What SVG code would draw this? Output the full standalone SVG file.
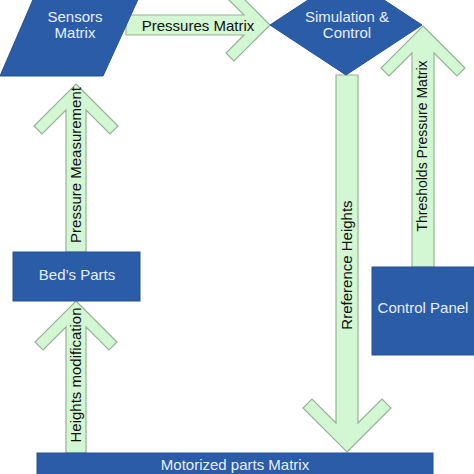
<svg xmlns="http://www.w3.org/2000/svg" width="474" height="474" viewBox="0 0 474 474">
<style>
.node{fill:#2b5ca8;stroke:#24528f;stroke-width:1}
.arrow{fill:#d3f7d3;stroke:#96b396;stroke-width:1.2;stroke-linejoin:miter}
.lt{font-family:"Liberation Sans",Arial,sans-serif;font-size:15px;fill:#e9eff8;text-anchor:middle}
.dk{font-family:"Liberation Sans",Arial,sans-serif;font-size:15px;fill:#111;text-anchor:middle}
.vc{dominant-baseline:central}
</style>
<rect width="474" height="474" fill="#fff"/>
<g id="connectors">
  <g id="pressures-matrix">
    <polygon class="arrow" points="270,25 234,61 226,53 244,35 126,35 126,15 244,15 226,-3 234,-11"/>
    <text class="dk" x="198" y="31">Pressures Matrix</text>
  </g>
  <g id="pressure-measurement">
    <polygon class="arrow" points="76,84 118,126 110,134 86,110 86,252 66,252 66,110 42,134 34,126"/>
    <text class="dk vc" x="75" y="165" transform="rotate(-90 75 165)">Pressure Measurement</text>
  </g>
  <g id="heights-modification">
    <polygon class="arrow" points="76,301 117,342 109,350 86,327 86,453 66,453 66,327 43,350 35,342"/>
    <text class="dk vc" x="75" y="375" transform="rotate(-90 75 375)">Heights modification</text>
  </g>
  <g id="reference-heights">
    <polygon class="arrow" points="347,452 391,408 382,399 358,423 358,75 336,75 336,423 312,399 303,408"/>
    <text class="dk vc" x="346" y="265" transform="rotate(-90 346 265)">Rreference Heights</text>
  </g>
  <g id="thresholds">
    <polygon class="arrow" points="423,26 465,68 457,76 434,53 434,267 412,267 412,53 389,76 381,68"/>
    <text class="dk vc" x="422" y="146" style="font-size:14px" transform="rotate(-90 422 146)">Thresholds Pressure Matrix</text>
  </g>
</g>
<g id="sensors-matrix">
  <polygon class="node" points="0,76 103,76 140,-5 35,-5"/>
  <text class="lt" x="75" y="22">Sensors</text>
  <text class="lt" x="75" y="38">Matrix</text>
</g>
<g id="simulation-control">
  <polygon class="node" points="346,-25 422,25 346,75 270,25"/>
  <text class="lt" x="347" y="22">Simulation &amp;</text>
  <text class="lt" x="347" y="38">Control</text>
</g>
<g id="beds-parts">
  <rect class="node" x="13" y="252" width="127" height="49"/>
  <text class="lt" x="77" y="280">Bed’s Parts</text>
</g>
<g id="control-panel">
  <rect class="node" x="372" y="267" width="110" height="88"/>
  <text class="lt" x="423" y="313">Control Panel</text>
</g>
<g id="motorized-parts">
  <rect class="node" x="37" y="453" width="396" height="30"/>
  <text class="lt" x="235" y="470">Motorized parts Matrix</text>
</g>
</svg>
